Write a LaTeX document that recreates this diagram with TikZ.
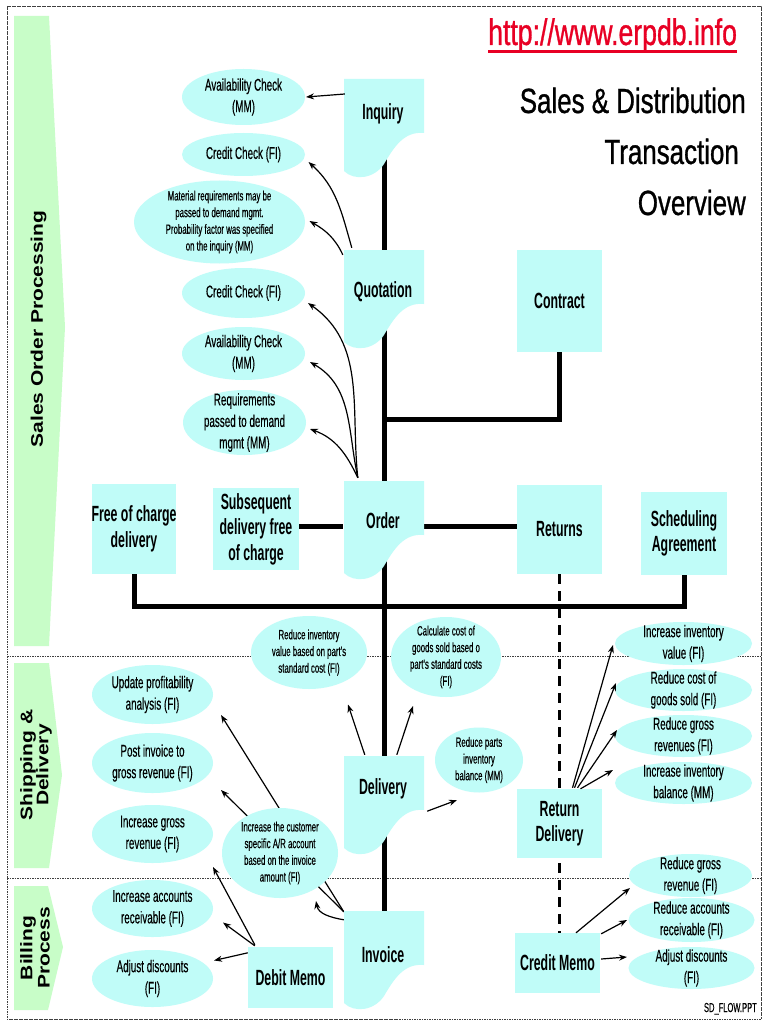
\documentclass[tikz,border=0pt]{standalone}
\usepackage{fontspec}
\usepackage{graphicx}
\setmainfont{Liberation Sans}
\newfontfamily\sdnf[FakeStretch=0.58,FakeBold=0.4]{Liberation Sans}
\newfontfamily\sdbf[FakeStretch=0.56]{Liberation Sans}
\newfontfamily\sdtf[FakeStretch=0.74,FakeBold=0.8]{Liberation Sans}
\newfontfamily\sdurl[FakeStretch=0.72,FakeBold=0.8]{Liberation Sans}
\usetikzlibrary{shapes.geometric,arrows.meta,calc}
\definecolor{cyanf}{RGB}{192,252,248}
\definecolor{greenf}{RGB}{200,253,200}
\definecolor{urlred}{RGB}{232,0,36}
\newcommand\fnorm{\sdnf\fontsize{17}{21.5}\selectfont}
\newcommand\fsmall{\sdnf\fontsize{13.5}{16.7}\selectfont}
\newcommand\fbig{\sdbf\bfseries\fontsize{22}{25.5}\selectfont}
\newcommand\docshape[2]{\fill[cyanf] (#1,#2) -- ({#1+80},#2) -- ({#1+80},{#2+54}) .. controls ({#1+60},{#2+52}) and ({#1+50},{#2+68}) .. ({#1+40},{#2+85}) .. controls ({#1+30},{#2+100}) and ({#1+10},{#2+102}) .. (#1,{#2+92}) -- cycle;}
\newcommand\ellnode[7]{\node[ellipse,fill=cyanf,inner sep=0pt,minimum width=#4pt,minimum height=#5pt] (#1) at (#2,#3) {};
  \node[align=center,font=#6,inner sep=0pt] (#1-t) at (#1.center) {#7};}
\pgfdeclarelayer{bg}
\pgfsetlayers{bg,main}
\begin{document}
\begin{tikzpicture}[x=1pt,y=-1pt,
 arr/.style={-{Stealth[length=8pt,width=6pt]}, line width=1.2pt},
 bar/.style={line width=5pt},
 dashline/.style={line width=2.6pt, dash pattern=on 10pt off 7pt},
 brd/.style={line width=0.6pt, black!75, dash pattern=on 1.6pt off 0.9pt},
 rectn/.style={fill=cyanf, inner sep=0pt, align=center, font=\fbig},
 docn/.style={inner sep=0pt, minimum width=80pt, minimum height=54pt, align=center, font=\fbig},
 sect/.style={rotate=90, inner sep=0pt, font=\bfseries\fontsize{21}{24}\selectfont},
]
\begin{pgfonlayer}{bg}
\fill[white] (0,0) rectangle (768,1024);
\draw[brd] (7,6) rectangle (761,1019);
\draw[brd] (7,656) -- (761,656);
\draw[brd] (7,878) -- (761,878);
\end{pgfonlayer}
\useasboundingbox (0,0) rectangle (768,1024);

% phase bands
\fill[greenf] (14,16) -- (49,16) -- (65,327) -- (49,646) -- (14,646) -- cycle;
\fill[greenf] (14,663) -- (49,663) -- (62,775) -- (49,868) -- (14,868) -- cycle;
\fill[greenf] (14,886) -- (48,886) -- (63,947) -- (48,1010) -- (14,1010) -- cycle;
\node[sect] (sop) at (38.5,329) {\scalebox{1}[0.8]{Sales Order Processing}};
\node[sect] (sh1) at (28,765) {\scalebox{1}[0.8]{Shipping \&}};
\node[sect] (sh2) at (44,765) {\scalebox{1}[0.8]{Delivery}};
\node[sect] (bi1) at (28,948) {\scalebox{1}[0.8]{Billing}};
\node[sect] (bi2) at (44,948) {\scalebox{1}[0.8]{Process}};

% title
\node[anchor=base west, inner sep=0pt, text=urlred, font=\sdurl\fontsize{37}{40}\selectfont] (url) at (488,45) {http://www.erpdb.info};
\draw[urlred, line width=3pt] ($(url.base west)+(0,6.5)$) -- ($(url.base east)+(0,6.5)$);
\node[anchor=base east, inner sep=0pt, font=\sdtf\fontsize{35}{40}\selectfont] (t1) at (746,113) {Sales \& Distribution};
\node[anchor=base east, inner sep=0pt, font=\sdtf\fontsize{35}{40}\selectfont] (t2) at (739,164) {Transaction};
\node[anchor=base east, inner sep=0pt, font=\sdtf\fontsize{35}{40}\selectfont] (t3) at (746,215) {Overview};
\node[anchor=base east, inner sep=0pt, font=\sdnf\fontsize{13}{15}\selectfont] (sdf) at (757,1012) {SD\_FLOW.PPT};

% document shapes
\docshape{344}{79}
\docshape{344}{250}
\docshape{344}{481}
\docshape{344}{756}
\docshape{344}{911}
\node[docn] (inq) at (383,114) {Inquiry};
\node[docn] (quo) at (383,292) {Quotation};
\node[docn] (ord) at (383,521) {Order};
\node[docn] (del) at (383,789) {Delivery};
\node[docn] (inv) at (383,955) {Invoice};

% rectangles
\node[rectn, minimum width=85pt, minimum height=102pt] (con) at (559.5,301) {Contract};
\node[rectn, minimum width=84pt, minimum height=90pt] (fcd) at (134,529) {Free of charge\\delivery};
\node[rectn, minimum width=86pt, minimum height=82pt] (sub) at (256,529) {Subsequent\\delivery free\\of charge};
\node[rectn, minimum width=85pt, minimum height=89pt] (ret) at (559.5,529.5) {Returns};
\node[rectn, minimum width=86pt, minimum height=83pt] (sch) at (684,533.5) {Scheduling\\Agreement};
\node[rectn, minimum width=85pt, minimum height=69pt] (rd) at (559.5,823.5) {Return\\Delivery};
\node[rectn, minimum width=85pt, minimum height=61pt] (dm) at (290.5,977.5) {Debit Memo};
\node[rectn, minimum width=85pt, minimum height=60pt] (cm) at (557.5,963) {Credit Memo};

% ellipses
\ellnode{av1}{243.5}{97}{123}{56}{\fnorm}{Availability Check\\(MM)}
\ellnode{cc1}{243.5}{154.5}{123}{43}{\fnorm}{Credit Check (FI)}
\ellnode{mr}{219.5}{222}{171}{83}{\fsmall}{Material requirements may be\\passed to demand mgmt.\\Probability factor was specified\\on the inquiry (MM)}
\ellnode{cc2}{243.5}{293}{123}{50}{\fnorm}{Credit Check (FI)}
\ellnode{av2}{243.5}{353.5}{123}{53}{\fnorm}{Availability Check\\(MM)}
\ellnode{req}{244.5}{422.5}{123}{65}{\fnorm}{Requirements\\passed to demand\\mgmt (MM)}
\ellnode{rdi}{309}{652.5}{116}{73}{\fsmall}{Reduce inventory\\value based on part's\\standard cost (FI)}
\ellnode{cgs}{446}{657}{110}{80}{\fsmall}{Calculate cost of\\goods sold based o\\part's standard costs\\(FI)}
\ellnode{rpi}{479}{760}{88}{65}{\fsmall}{Reduce parts\\inventory\\balance (MM)}
\ellnode{upa}{152.5}{694.5}{121}{59}{\fnorm}{Update profitability\\analysis (FI)}
\ellnode{pig}{152.5}{763}{121}{60}{\fnorm}{Post invoice to\\gross revenue (FI)}
\ellnode{igr}{152.5}{834}{121}{58}{\fnorm}{Increase gross\\revenue (FI)}
\ellnode{arn}{280}{853}{116}{90}{\fsmall}{Increase the customer\\specific A/R account\\based on the invoice\\amount (FI)}
\ellnode{iar}{152.5}{908.5}{121}{57}{\fnorm}{Increase accounts\\receivable (FI)}
\ellnode{adl}{152.5}{978.5}{121}{57}{\fnorm}{Adjust discounts\\(FI)}
\ellnode{iiv}{683.5}{643.5}{137}{43}{\fnorm}{Increase inventory\\value (FI)}
\ellnode{rcg}{683.5}{690}{137}{42}{\fnorm}{Reduce cost of\\goods sold (FI)}
\ellnode{rgr}{683.5}{736}{137}{42}{\fnorm}{Reduce gross\\revenues (FI)}
\ellnode{iib}{683.5}{783}{137}{42}{\fnorm}{Increase inventory\\balance (MM)}
\ellnode{rgr2}{690.5}{875.5}{123}{43}{\fnorm}{Reduce gross\\revenue (FI)}
\ellnode{rar}{691.5}{920}{126}{44}{\fnorm}{Reduce accounts\\receivable (FI)}
\ellnode{adr}{691.5}{968}{126}{42}{\fnorm}{Adjust discounts\\(FI)}

% connectors behind the shapes
\coordinate (j1) at (384,419);
\begin{pgfonlayer}{bg}
\draw[bar] ([xshift=1pt]inq.south) -- ([xshift=1pt]inv.north);
\draw[bar] (con.south) |- (j1);
\draw[bar] ($(sub.east)+(0,-3)$) -- ($(ord.west)+(0,5)$);
\draw[bar] ($(ord.east)+(0,5)$) -- ($(ret.west)+(0,-3.5)$);
\draw[bar] (fcd.south) -- ++(0,32) -| (sch.south);
\draw[dashline] (ret.south) -- (ret.south |- cm.north);
\draw[arr] ($(inv.north west)+(1,-16)$) -- ($(upa.center)+(68.5,20.5)$);
\draw[arr] ($(inv.north west)+(1,-16)$) -- ($(pig.center)+(68.5,27)$);
\end{pgfonlayer}

% arrows
\draw[arr] ($(inq.west)+(2,-20)$) -- ($(av1.center)+(62.5,0)$);
\draw[arr] ($(quo.north west)+(9,-17)$) to[out=106,in=-42] ($(cc1.center)+(65,7.5)$);
\draw[arr] ($(quo.north west)+(0,-10)$) to[out=115,in=-30] ($(mr.center)+(90,-1)$);
\draw[arr] ($(ord.north west)+(15,-16)$) to[out=96,in=-35] ($(cc2.center)+(64.5,10)$);
\draw[arr] ($(ord.north west)+(15,-16)$) to[out=102,in=-30] ($(av2.center)+(66.5,8.5)$);
\draw[arr] ($(ord.north west)+(15,-16)$) to[out=115,in=-20] ($(req.center)+(65.5,6.5)$);
\draw[arr] ($(del.north west)+(22,-7)$) -- ($(rdi.center)+(39,52)$);
\draw[arr] ($(del.north west)+(54,-7)$) -- ($(cgs.center)+(-33,49)$);
\draw[arr] ($(del.south east)+(4,-5)$) -- ($(rpi.center)+(-22,40)$);
\draw[arr] ($(inv.north west)+(1,-8)$) to[out=170,in=-80] ($(arn.center)+(36,48)$);
\draw[arr] ($(dm.north west)+(7,-2)$) -- ($(igr.center)+(60.5,33)$);
\draw[arr] ($(dm.north west)+(7,-1)$) -- ($(iar.center)+(70.5,14)$);
\draw[arr] ($(dm.north west)+(0,6)$) -- ($(adl.center)+(61.5,-18)$);
\draw[arr] ($(rd.north)+(13,-1)$) -- ($(iiv.center)+(-70.5,1.5)$);
\draw[arr] ($(rd.north)+(15,-1)$) -- ($(rcg.center)+(-67.5,-7)$);
\draw[arr] ($(rd.north)+(18,-1)$) -- ($(rgr.center)+(-66.5,-6)$);
\draw[arr] ($(rd.north)+(21,0)$) -- ($(iib.center)+(-70.5,-13)$);
\draw[arr] ($(cm.north)+(18.5,0)$) -- ($(rgr2.center)+(-60.5,12.5)$);
\draw[arr] ($(cm.north east)+(1,1)$) -- ($(rar.center)+(-64.5,0)$);
\draw[arr] ($(cm.east)+(1,-4)$) -- ($(adr.center)+(-64.5,-11)$);
\end{tikzpicture}
\end{document}
